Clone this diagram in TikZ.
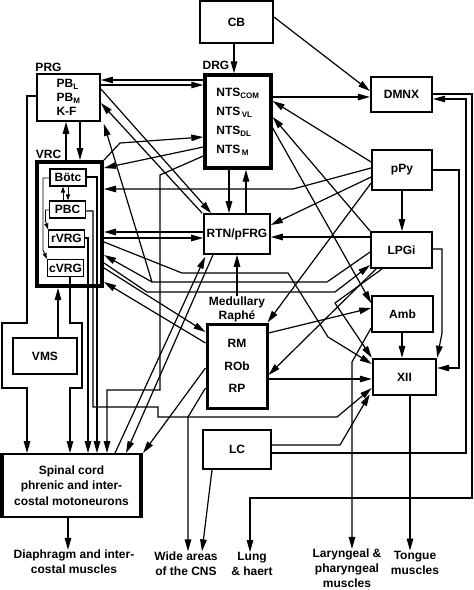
\documentclass[tikz,border=0pt]{standalone}
\usepackage{fontspec}
\setmainfont{Liberation Sans}
\usetikzlibrary{arrows.meta}

\tikzset{
    box/.style={draw, line width=1.8pt, inner sep=0pt, align=center},
    fatbox/.style={box, line width=3.4pt},
    subbox/.style={draw, line width=1.1pt, inner sep=0pt, minimum width=36pt, minimum height=17pt},
    lab/.style={inner sep=0pt, align=center},
    arr/.style={line width=1.2pt, -{Triangle[length=12pt,width=6.5pt]}},
    smallarr/.style={line width=0.9pt, -{Triangle[length=6pt,width=4pt]}},
}

\begin{document}
\begin{tikzpicture}[x=1pt, y=-1pt, font=\bfseries\fontsize{12}{14}\selectfont]
    \useasboundingbox (0,0) rectangle (474,590);

    % boxes
    \node[box, minimum width=73pt, minimum height=42pt] (cb) at (236.5,22) {CB};
    \node[fatbox, minimum width=66pt, minimum height=93pt, align=left] (nts) at (238,121.5)
        {NTS\textsubscript{COM}\\[5pt]NTS\textsubscript{\,VL}\\[5pt]NTS\textsubscript{DL}\\[5pt]NTS\textsubscript{\,M}};
    \node[box, minimum width=63pt, minimum height=47pt, align=left] (prg) at (68.5,97.5)
        {PB\textsubscript{L}\\PB\textsubscript{M}\\K-F};
    \node[fatbox, line width=4pt, minimum width=65pt, minimum height=124pt] (vrc) at (69.5,224) {};
    \node[subbox] (botc) at (68,177.5) {Bötc};
    \node[subbox] (pbc)  at (67.5,209.5) {PBC};
    \node[subbox] (rvrg) at (66.5,238.5) {rVRG};
    \node[subbox] (cvrg) at (65.5,268) {cVRG};
    \node[box, line width=1.6pt, minimum width=66pt, minimum height=40pt] (rtn) at (237,234) {RTN/pFRG};
    \node[box, line width=2.2pt, minimum width=61pt, minimum height=35pt] (dmnx) at (401.5,94.5) {DMNX};
    \node[box, minimum width=60pt, minimum height=40pt] (ppy)  at (402,170) {pPy};
    \node[box, minimum width=61pt, minimum height=36pt] (lpgi) at (401.5,250) {LPGi};
    \node[box, line width=1.6pt, minimum width=61pt, minimum height=36pt] (amb) at (402.5,314) {Amb};
    \node[box, line width=2.4pt, minimum width=63pt, minimum height=36pt] (xii) at (404.5,377) {XII};
    \node[fatbox, line width=3pt, minimum width=60pt, minimum height=84pt] (rm) at (237,366)
        {RM\\[8.5pt]ROb\\[8.5pt]RP};
    \node[box, minimum width=64pt, minimum height=36pt] (vms) at (45,356) {VMS};
    \node[box, minimum width=68pt, minimum height=39pt] (lc)  at (237,449.5) {LC};
    \node[box, minimum width=137pt, minimum height=63pt] (spinal) at (71.5,485.5)
        {Spinal cord\\[1.5pt]phrenic and inter-\\[1.5pt]costal motoneurons};
    \draw[line width=4pt] (spinal.north west) -- (spinal.south west);
    \draw[line width=4pt] (spinal.north east) -- (spinal.south east);

    % labels
    \node[lab] (prglab) at (48.5,67) {PRG};
    \node[lab] (drglab) at (216,65) {DRG};
    \node[lab] (vrclab) at (48.5,154) {VRC};
    \node[lab] (raphe)  at (237,309) {Medullary\\Raphé};
    \node[lab] (diaphr) at (74,562) {Diaphragm and inter-\\[1pt]costal muscles};
    \node[lab] (wide)   at (186,563.5) {Wide areas\\[1pt]of the CNS};
    \node[lab] (lung)   at (252,564) {Lung\\[1pt]\& haert};
    \node[lab] (laryn)  at (347,568.5) {Laryngeal \&\\[1pt]pharyngeal\\[1pt]muscles};
    \node[lab] (tongue) at (415,562.5) {Tongue\\[1pt]muscles};

    % CB, NTS, PRG
    \draw[arr] (234,0 |- cb.south) -- (234,0 |- nts.north);
    \draw[arr] (cb.east |- 0,17) -- (dmnx.west |- 0,91);
    \draw[arr] (nts.east |- 0,97) -- (dmnx.west |- 0,97);
    \draw[arr] (nts.west |- 0,80) -- (prg.east |- 0,80);
    \draw[arr] (prg.east |- 0,85) -- (nts.west |- 0,85);
    \draw[arr] (66,0 |- vrc.north) -- (66,0 |- prg.south);
    \draw[arr] (80,0 |- prg.south) -- (80,0 |- vrc.north);
    \draw[arr] (prg.east |- 0,89) -- ([xshift=8pt]rtn.north west);
    \draw[arr] ([xshift=-1pt]rtn.north west) -- (prg.east |- 0,103);
    \draw[arr] (vrc.north east) -- (120,143) -- (nts.west |- 0,137);
    \draw[arr] (nts.west |- 0,147) -- (vrc.east |- 0,168);
    \draw[arr] (nts.west |- 0,156) -- (160,175) -- (160,390) -- (107,390) -- (107,0 |- spinal.north);
    \draw[arr] (229,0 |- nts.south) -- (229,0 |- rtn.north);
    \draw[arr] (246,0 |- rtn.north) -- (246,0 |- nts.south);
    \draw[arr] (nts.east |- 0,128) -- (amb.west |- 0,303);

    % pPy
    \draw[arr] (ppy.west |- 0,162) -- (nts.east |- 0,101);
    \draw[arr] (ppy.west |- 0,168) -- (293,189) -- (vrc.east |- 0,189);
    \draw[arr] (ppy.west |- 0,177) -- (rtn.east |- 0,225);
    \draw[arr] (ppy.west |- 0,183) -- ([xshift=-1pt]rm.north east);
    \draw[arr] (402,0 |- ppy.south) -- (402,0 |- lpgi.north);
    \draw[arr] (ppy.east |- 0,170) -- (459,170) -- (459,368) -- (xii.east |- 0,368);

    % LPGi
    \draw[arr] (lpgi.north west) -- (nts.east |- 0,117);
    \draw[arr] (lpgi.west |- 0,237) -- (rtn.east |- 0,237);
    \draw[arr] (lpgi.west |- 0,252) -- (327,282) -- (152,282) -- (vrc.east |- 0,255);
    \draw[arr] (152,282) -- ([shift={(3pt,-2pt)}]prg.south east);
    \draw[arr] (lpgi.east |- 0,249) -- (442,249) -- (442,333) -- (xii.north east);
    \draw[arr] ([xshift=12pt]lpgi.south west) -- (335,303) -- (xii.north west);
    \draw[arr] ([xshift=6pt]lpgi.south west) -- (rm.east |- 0,375);

    % RTN and VRC
    \draw[arr] (rtn.west |- 0,232) -- (vrc.east |- 0,232);
    \draw[arr] (vrc.east |- 0,238) -- (rtn.west |- 0,238);
    \draw[arr] (raphe.north) -- (rtn.south);
    \draw[arr] (115,0 |- spinal.north) -- ([shift={(2pt,-2pt)}]rtn.south west);
    \draw[arr] (213,0 |- rtn.south) -- (126,0 |- spinal.north);
    \draw[arr] (vrc.east |- 0,242) -- (182,273) -- (288,273) -- (328,337) -- (xii.west |- 0,364);
    \draw[arr] (vrc.east |- 0,263) -- (147,292) -- (335,292) -- (lpgi.west |- 0,265);
    \draw[arr] (vrc.east |- 0,268) -- (rm.west |- 0,332);
    \draw[arr] (rm.west |- 0,343) -- (vrc.east |- 0,282);

    % raphe, Amb, XII
    \draw[arr] (rm.west |- 0,368) -- (143,0 |- spinal.north);
    \draw[arr] (rm.west |- 0,388) -- (188,417) -- (188,0 |- wide.north);
    \draw[arr] (rm.east |- 0,379) -- (xii.west |- 0,379);
    \draw[arr] (rm.east |- 0,333) -- (amb.west |- 0,308);
    \draw[arr] (402,0 |- amb.south) -- (402,0 |- xii.north);
    \draw[arr] ([yshift=5pt]amb.south west) -- (352,362) -- (352,0 |- laryn.north);
    \draw[arr] (410,0 |- xii.south) -- (410,0 |- tongue.north);

    % LC, DMNX
    \draw[arr] (212,0 |- lc.south) -- (202,0 |- wide.north);
    \draw[arr] (lc.east |- 0,445) -- (340,445) -- ([shift={(-2pt,2pt)}]xii.south west);
    \draw[arr] (lc.east |- 0,453) -- (466,453) -- (466,99) -- (dmnx.east |- 0,99);
    \draw[arr] (dmnx.east |- 0,94) -- (472,94) -- (472,498) -- (250,498) -- (250,0 |- lung.north);

    % to the spinal cord
    \draw[arr] (prg.west |- 0,96) -- (27,96) -- (27,323) -- (2,323) -- (2,388) -- (27,388) -- (27,0 |- spinal.north);
    \draw[arr] (70,0 |- cvrg.south) -- (70,323) -- (82,323) -- (82,388) -- (70,388) -- (70,0 |- spinal.north);
    \draw[arr] (rvrg.east |- 0,238) -- (88,238) -- (88,0 |- spinal.north);
    \draw[arr] (pbc.east |- 0,211) -- (93,211) -- (93,407) -- (158,407) -- (158,417) -- (337,417) -- (xii.west |- 0,388);
    \draw[arr] (botc.east |- 0,177) -- (97,177) -- (97,0 |- spinal.north);
    \draw[arr] (58,0 |- vms.north) -- (58,0 |- vrc.south);
    \draw[arr] (68,0 |- spinal.south) -- (68,0 |- diaphr.north);

    % inside the VRC
    \draw[smallarr] (68,0 |- botc.south) -- (68,0 |- pbc.north);
    \draw[smallarr] (63,0 |- pbc.north) -- (63,0 |- botc.south);
    \draw[smallarr] (botc.west |- 0,178) -- (43,178) -- (43,250) -- (cvrg.north west);
    \draw[smallarr] (pbc.west |- 0,210) -- (45.5,210) -- (45.5,221) -- (rvrg.north west);
\end{tikzpicture}
\end{document}
